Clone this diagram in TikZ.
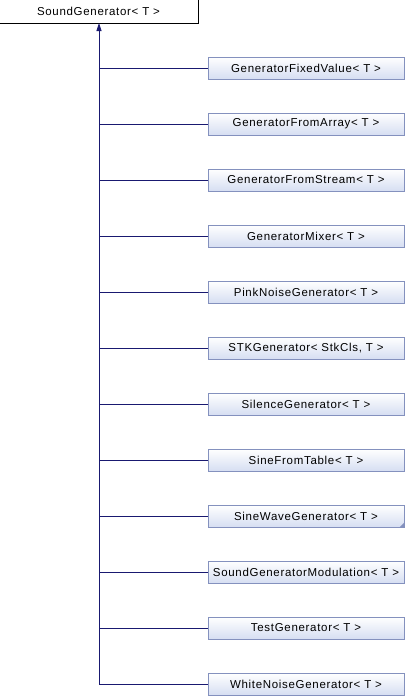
\documentclass[tikz,border=0pt]{standalone}
\usepackage{fontspec}
\setmainfont{Liberation Sans}[LetterSpace=6]
\usetikzlibrary{arrows.meta}
\definecolor{edgecol}{RGB}{25,25,112}
\definecolor{boxborder}{RGB}{132,145,190}
\definecolor{boxfill}{RGB}{214,222,242}
\begin{document}
\begin{tikzpicture}[x=1pt,y=-1pt,
  base/.style={draw=black,fill=white,line width=0.8pt,minimum width=199pt,minimum height=24pt,inner sep=0pt,font=\fontsize{11.5}{13}\selectfont},
  child/.style={draw=boxborder,top color=white,bottom color=boxfill,line width=0.8pt,minimum width=196pt,minimum height=22pt,inner sep=0pt,font=\fontsize{11.5}{13}\selectfont},
  edge/.style={draw=edgecol,line width=0.8pt}]
\useasboundingbox (0,0) rectangle (406,696);
\node[base] (sg) at (98.5,11) {SoundGenerator< T >};
\node[child] (c1) at (306,68) {GeneratorFixedValue< T >};
\node[child] (c2) at (306,124) {GeneratorFromArray< T >};
\node[child] (c3) at (306,180) {GeneratorFromStream< T >};
\node[child] (c4) at (306,236) {GeneratorMixer< T >};
\node[child] (c5) at (306,292) {PinkNoiseGenerator< T >};
\node[child] (c6) at (306,348) {STKGenerator< StkCls, T >};
\node[child] (c7) at (306,404) {SilenceGenerator< T >};
\node[child] (c8) at (306,460) {SineFromTable< T >};
\node[child] (c9) at (306,516) {SineWaveGenerator< T >};
\node[child] (c10) at (306,572) {SoundGeneratorModulation< T >};
\node[child] (c11) at (306,628) {TestGenerator< T >};
\node[child] (c12) at (306,684) {WhiteNoiseGenerator< T >};
\fill[boxborder] (c9.south east) -- ++(0,-5) -- ++(-5,5) -- cycle;
\coordinate (top) at (99,23);
\coordinate (bot) at (99,684);
\draw[edge,-{Triangle[width=5pt,length=8pt]}] (bot) -- (top);
\foreach \i in {1,...,12} {
  \draw[edge] (c\i.west) -- (99,0 |- c\i.west);
}
\end{tikzpicture}
\end{document}
